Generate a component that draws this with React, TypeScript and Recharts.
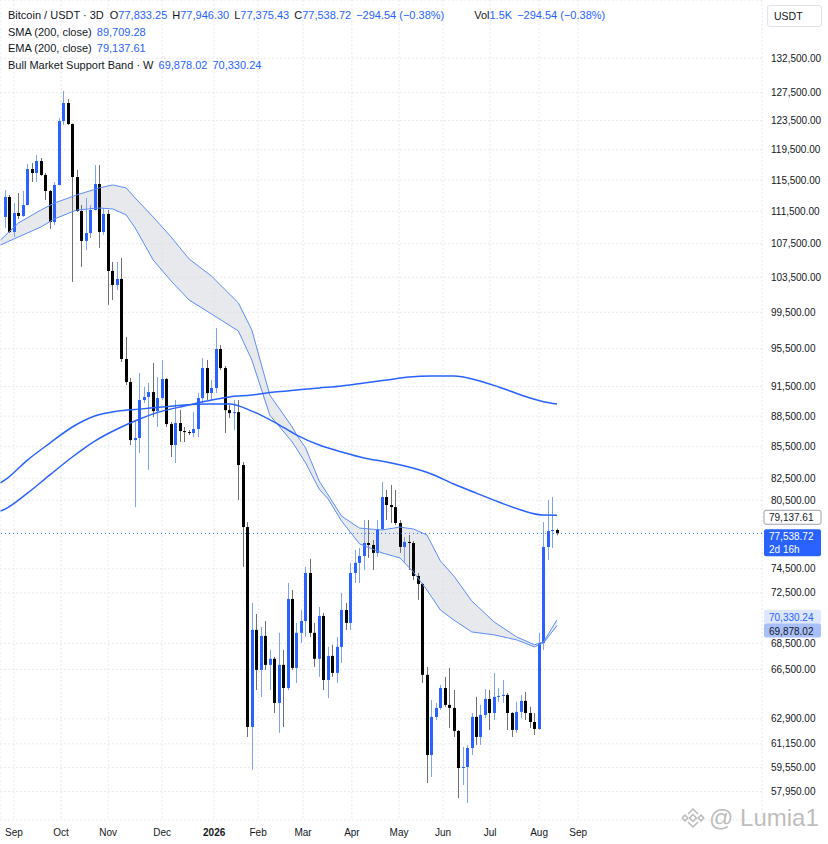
import React from 'react';
import {
  ComposedChart,
  Bar,
  Line,
  Area,
  XAxis,
  YAxis,
  CartesianGrid,
  ReferenceLine,
} from 'recharts';

const W = 828;
const H = 844;
const FONT = '"Liberation Sans", Arial, sans-serif';
const BLUE = '#2962ff';
const INK = '#131722';
const UP = '#2962ff';
const UP_WICK = '#7fa2f6';
const DOWN = '#000000';
const DOWN_WICK = '#6f6f6f';

// 3D candles, index 0 = first candle on the left
const opens = [
  110790, 113310, 108930, 111290, 110910, 112290, 116940, 116420, 118000, 116160,
  114080, 110160, 114860, 123440, 125980, 123030, 115890, 111540, 107830, 108800,
  111660, 114980, 108930, 111160, 104240, 102610, 103310, 94390, 91970, 86140,
  86340, 90120, 90430, 90930, 89000, 90320, 92280, 87710, 85660, 87810,
  87020, 86920, 86830, 87220, 90320, 93430, 90830, 91350, 95460, 93430,
  89100, 88800, 88900, 83750, 78090, 62330, 69540, 66470, 69070, 66850,
  67310, 64040, 66850, 65130, 72010, 66620, 69310, 70240, 74150, 69310,
  67310, 70640, 65720, 67530, 66250, 68220, 71120, 70090, 74150, 75000,
  75590, 76700, 76530, 75850, 77920, 80780, 80060, 79870, 78450, 76360,
  76790, 76700, 73900, 73240, 66100, 60390, 63040, 63680, 65130, 63900,
  63680, 62050, 59510, 59580, 60870, 63040, 61630, 63180, 64330, 63320,
  64480, 64550, 64620, 63320, 62120, 63400, 64190, 63320, 62680, 62190,
  68530, 76360, 77740, 77833.25,
];
const highs = [
  114210, 113570, 112540, 113820, 114080, 117600, 117730, 118800, 118400, 116420,
  114210, 115240, 123860, 127700, 126540, 123100, 116810, 112290, 113180, 112290,
  117470, 117470, 111910, 111660, 105310, 105310, 105790, 96750, 92390, 88110,
  92910, 91450, 91870, 93960, 92490, 94280, 92390, 87910, 90120, 89100,
  87420, 87120, 88900, 90830, 94490, 94280, 92180, 97740, 95890, 93640,
  89610, 90120, 90120, 84030, 78530, 71690, 70800, 69770, 70240, 67990,
  67460, 69310, 67990, 73320, 72740, 70090, 71120, 74660, 75340, 70090,
  71360, 70880, 68220, 68380, 68990, 72500, 71690, 75000, 76100, 76270,
  78710, 78710, 76960, 78710, 82160, 81420, 81890, 81420, 78710, 77220,
  77400, 76870, 74150, 73320, 66700, 64260, 64040, 65350, 65950, 66620,
  64980, 62120, 60940, 61080, 63320, 64480, 63900, 65050, 64980, 66250,
  65130, 65720, 64760, 63380, 64120, 64620, 64840, 63760, 63320, 69310,
  78530, 80510, 80780, 77946.3,
];
const lows = [
  109420, 108800, 108320, 110540, 110790, 112230, 115240, 115240, 116020, 112920,
  109290, 109790, 114800, 122890, 122890, 102960, 111410, 104720, 106740, 108190,
  111600, 106980, 108560, 100330, 100890, 102030, 94070, 91660, 85660, 79870,
  84890, 89810, 83280, 88410, 87420, 90120, 87420, 84510, 83940, 85950,
  85950, 86630, 86430, 86430, 89810, 90120, 90120, 90830, 93220, 86830,
  88310, 87120, 80510, 74660, 61630, 59380, 64980, 64480, 66470, 64980,
  63320, 61910, 62330, 64980, 66470, 65500, 68530, 68990, 68990, 66700,
  65950, 64980, 64400, 65950, 65500, 67000, 69540, 69540, 73320, 73320,
  74400, 75420, 74400, 75510, 77830, 78710, 78450, 78270, 75850, 75080,
  74400, 73570, 71930, 65500, 58510, 58910, 62820, 63540, 63760, 62260,
  61630, 57530, 58380, 57210, 60390, 61080, 61080, 62960, 62120, 62820,
  64120, 64040, 62120, 61630, 61910, 62960, 62820, 62260, 61770, 62120,
  67990, 75250, 76270, 77375.43,
];
const closes = [
  113310, 108930, 111290, 110910, 112290, 116940, 116420, 118000, 116160, 114080,
  110160, 114860, 123440, 125980, 123030, 115890, 111540, 107830, 108800, 111660,
  114980, 108930, 111160, 104240, 102610, 103310, 94390, 91970, 86140, 86340,
  90120, 90430, 90930, 89000, 90320, 92280, 87710, 85660, 87810, 87020,
  86920, 86830, 87220, 90320, 93430, 90830, 91350, 95460, 93430, 89100,
  88800, 88900, 83750, 78090, 62330, 69540, 66470, 69070, 66850, 67310,
  64040, 66850, 65130, 72010, 66620, 69310, 70240, 74150, 69310, 67310,
  70640, 65720, 67530, 66250, 68220, 71120, 70090, 74150, 75000, 75590,
  76700, 76530, 75850, 77920, 80780, 80060, 79870, 78450, 76360, 76790,
  76700, 73900, 73240, 66100, 60390, 63040, 63680, 65130, 63900, 63680,
  62050, 59510, 59580, 60870, 63040, 61630, 63180, 64330, 63320, 64480,
  64550, 64620, 63320, 62120, 63400, 64190, 63320, 62680, 62190, 68530,
  76360, 77740, 77830, 77538.72,
];

// SMA / EMA (200, close), read at these candle indices
const maIndex = [-1, 0, 5, 10, 15, 20, 25, 30, 35, 40, 45, 50, 55, 60, 65, 70, 75, 80, 85, 90, 95, 100, 105, 110, 115, 120, 123];
const smaValues = [
  79510, 79690, 81140, 82820, 84510, 86040, 87220, 88210, 89000, 89510, 90020, 90430, 90630, 90930,
  91140, 91350, 91560, 91870, 92180, 92490, 92600, 92600, 92180, 91450, 90630, 89950, 89709.28,
];
const emaValues = [
  82070, 82350, 84220, 85850, 87420, 88510, 89000, 89200, 89410, 89610, 89710, 89710, 89000, 87910,
  86630, 85660, 84990, 84410, 84030, 83560, 82910, 81980, 81140, 80330, 79600, 79150, 79137.61,
];

// Bull Market Support Band (weekly)
const bandIndex = [
  -1, 3, 8, 11, 16, 21, 24, 27, 29, 33, 37, 41, 46, 52, 55, 59, 64, 65, 67, 70,
  72, 75, 79, 84, 88, 91, 94, 97, 100, 104, 109, 114, 118, 120, 123,
];
const bandUpper = [
  107950, 110040, 111660, 112540, 113570, 114470, 114860, 114470, 113180, 110790,
  108320, 105670, 103650, 100550, 97520, 90630, 87420, 86630, 85370, 82260,
  80970, 79060, 78000, 77830, 78090, 77920, 77400, 75170, 73900, 71850,
  70160, 68990, 68380, 68610, 70330.24,
];
const bandLower = [
  107340, 108320, 109540, 110540, 111660, 111910, 111790, 111040, 109420, 105550,
  103070, 100890, 99310, 97410, 94280, 88600, 85950, 85280, 83940, 81510,
  80600, 78620, 76620, 75850, 75420, 74230, 72740, 71120, 70320, 69380,
  69150, 68760, 68220, 68530, 69878.02,
];

const priceTicks = [
  132500, 127500, 123500, 119500, 115500, 111500, 107500, 103500, 99500, 95500, 91500,
  88500, 85500, 82500, 80500, 74500, 72500, 68500, 66500, 62900, 61150, 59550, 57950,
];
const monthTicks = [2.0, 12.5, 23.0, 35.0, 46.6, 56.4, 66.4, 77.3, 87.8, 97.6, 108.1, 119.0, 127.7];
const monthLabels = ['Sep', 'Oct', 'Nov', 'Dec', '2026', 'Feb', 'Mar', 'Apr', 'May', 'Jun', 'Jul', 'Aug', 'Sep'];

const candles = opens.map((open, i) => ({
  i,
  open,
  high: highs[i],
  low: lows[i],
  close: closes[i],
  range: [lows[i], highs[i]],
}));
const maData = maIndex.map((i, k) => ({ i, sma: smaValues[k], ema: emaValues[k] }));
const bandData = bandIndex.map((i, k) => ({
  i,
  upper: bandUpper[k],
  lower: bandLower[k],
  band: [bandLower[k], bandUpper[k]],
}));

const fmt = (v: number) =>
  v.toLocaleString('en-US', { minimumFractionDigits: 2, maximumFractionDigits: 2 });

function Candle(props: any) {
  const { x, y, width, height, payload } = props;
  if (!payload || height == null || isNaN(y)) return null;
  const { open, close, high, low } = payload;
  const top = Math.min(y, y + height);
  const h = Math.abs(height);
  const span = Math.log(high) - Math.log(low);
  const toY = (v: number) => top + ((Math.log(high) - Math.log(v)) / span) * h;
  const up = close >= open;
  const cx = Math.round(x + width / 2) + 0.5;
  const bodyTop = toY(Math.max(open, close));
  const bodyBottom = toY(Math.min(open, close));
  return (
    <g>
      <line x1={cx} x2={cx} y1={top} y2={top + h} stroke={up ? UP_WICK : DOWN_WICK} strokeWidth={1} />
      <rect
        x={cx - 1.5}
        y={bodyTop}
        width={3}
        height={Math.max(1, bodyBottom - bodyTop)}
        fill={up ? UP : DOWN}
      />
    </g>
  );
}

function MonthTick(props: any) {
  const { x, y, payload, index } = props;
  const label = monthLabels[index ?? payload.index] ?? '';
  return (
    <text
      x={x}
      y={y}
      dy="0.71em"
      textAnchor="middle"
      fontSize={10}
      fontFamily={FONT}
      fontWeight={label === '2026' ? 700 : 400}
      fill={INK}
    >
      {label}
    </text>
  );
}

function PriceTag(props: any) {
  const { viewBox, text, sub, bg, color, border, dy = 0 } = props;
  if (!viewBox) return null;
  const left = viewBox.x + viewBox.width + 2;
  const cy = viewBox.y + dy;
  const h = sub ? 27 : 14;
  return (
    <g>
      <rect x={left} y={cy - 7} width={57} height={h} rx={2} fill={bg} stroke={border || 'none'} strokeWidth={1} />
      <text x={left + 5} y={cy + 0.5} dominantBaseline="central" fontSize={10} fontFamily={FONT} fill={color}>
        {text}
      </text>
      {sub && (
        <text x={left + 5} y={cy + 13} dominantBaseline="central" fontSize={10} fontFamily={FONT} fill={color}>
          {sub}
        </text>
      )}
    </g>
  );
}

function Header() {
  const v = { color: BLUE };
  const gap = { marginLeft: 5 };
  return (
    <div
      style={{
        position: 'absolute',
        left: 8,
        top: 7,
        fontFamily: FONT,
        fontSize: 11,
        lineHeight: '16.5px',
        color: INK,
        whiteSpace: 'nowrap',
        pointerEvents: 'none',
      }}
    >
      <div>
        <span>Bitcoin / USDT · 3D</span>
        <span style={{ marginLeft: 6 }}>O<span style={v}>77,833.25</span></span>
        <span style={gap}>H<span style={v}>77,946.30</span></span>
        <span style={gap}>L<span style={v}>77,375.43</span></span>
        <span style={gap}>C<span style={v}>77,538.72</span></span>
        <span style={{ ...gap, ...v }}>−294.54 (−0.38%)</span>
        <span style={{ marginLeft: 30 }}>Vol<span style={v}>1.5K</span></span>
        <span style={{ ...gap, ...v }}>−294.54 (−0.38%)</span>
      </div>
      <div>
        SMA (200, close)<span style={{ ...gap, ...v }}>89,709.28</span>
      </div>
      <div>
        EMA (200, close)<span style={{ ...gap, ...v }}>79,137.61</span>
      </div>
      <div>
        Bull Market Support Band · W<span style={{ ...gap, ...v }}>69,878.02</span>
        <span style={{ ...gap, ...v }}>70,330.24</span>
      </div>
    </div>
  );
}

function Watermark() {
  const c = 'rgba(160,160,160,0.7)';
  return (
    <div
      style={{
        position: 'absolute',
        left: 681,
        top: 804,
        display: 'flex',
        alignItems: 'center',
        fontFamily: FONT,
        fontSize: 24,
        color: c,
        pointerEvents: 'none',
      }}
    >
      <svg width={24} height={22} viewBox="0 0 24 22" style={{ marginRight: 4 }}>
        <g fill="none" stroke={c} strokeWidth={1.6} strokeLinejoin="round">
          <path d="M7 7 L12 2 L17 7" />
          <path d="M7 15 L12 20 L17 15" />
          <rect x={9.5} y={8.5} width={5} height={5} transform="rotate(45 12 11)" />
          <rect x={2} y={9} width={4} height={4} transform="rotate(45 4 11)" />
          <rect x={18} y={9} width={4} height={4} transform="rotate(45 20 11)" />
        </g>
      </svg>
      <span>@ Lumia1</span>
    </div>
  );
}

export default function App() {
  return (
    <div
      style={{
        position: 'absolute',
        left: 0,
        top: 0,
        width: W,
        height: H,
        background: '#ffffff',
        overflow: 'hidden',
      }}
    >
      <ComposedChart width={W} height={H} data={candles} margin={{ top: 0, right: 0, bottom: 0, left: 0 }}>
        <CartesianGrid stroke="#e7e9ef" strokeDasharray="2 2" />
        <XAxis
          dataKey="i"
          type="number"
          domain={[-1.114, 168.67]}
          allowDataOverflow
          ticks={monthTicks}
          interval={0}
          tick={<MonthTick />}
          tickLine={false}
          axisLine={false}
          tickSize={0}
          tickMargin={9}
          height={24}
        />
        <YAxis
          orientation="right"
          type="number"
          scale="log"
          domain={[56120, 141500]}
          allowDataOverflow
          ticks={priceTicks}
          interval={0}
          tickFormatter={fmt}
          tick={{ fontSize: 10, fill: INK, fontFamily: FONT, textAnchor: 'start' }}
          tickLine={false}
          axisLine={false}
          tickSize={0}
          tickMargin={9}
          width={66}
        />

        <Area
          data={bandData}
          dataKey="band"
          type="linear"
          fill="#d9dbe1"
          fillOpacity={0.6}
          stroke="none"
          isAnimationActive={false}
          dot={false}
          activeDot={false}
        />

        <Bar dataKey="range" barSize={4} shape={<Candle />} isAnimationActive={false} />

        <Line
          data={bandData}
          dataKey="upper"
          type="linear"
          stroke="#5c8df6"
          strokeWidth={1}
          dot={false}
          activeDot={false}
          isAnimationActive={false}
        />
        <Line
          data={bandData}
          dataKey="lower"
          type="linear"
          stroke="#5c8df6"
          strokeWidth={1}
          dot={false}
          activeDot={false}
          isAnimationActive={false}
        />
        <Line
          data={maData}
          dataKey="sma"
          type="monotone"
          stroke={BLUE}
          strokeWidth={1.5}
          dot={false}
          activeDot={false}
          isAnimationActive={false}
        />
        <Line
          data={maData}
          dataKey="ema"
          type="monotone"
          stroke={BLUE}
          strokeWidth={1.5}
          dot={false}
          activeDot={false}
          isAnimationActive={false}
        />

        <ReferenceLine y={77538.72} stroke={BLUE} strokeDasharray="1 3" strokeWidth={1} />
        <ReferenceLine
          y={79137.61}
          stroke="none"
          label={<PriceTag text="79,137.61" bg="#ffffff" color={INK} border="#9aa0aa" dy={2} />}
        />
        <ReferenceLine
          y={77538.72}
          stroke="none"
          label={<PriceTag text="77,538.72" sub="2d 16h" bg={BLUE} color="#ffffff" dy={3} />}
        />
        <ReferenceLine
          y={70330.24}
          stroke="none"
          label={<PriceTag text="70,330.24" bg="#dde7ff" color={BLUE} dy={-3} />}
        />
        <ReferenceLine
          y={69878.02}
          stroke="none"
          label={<PriceTag text="69,878.02" bg="#a8bff9" color={INK} dy={5} />}
        />
      </ComposedChart>

      <Header />

      <div
        style={{
          position: 'absolute',
          left: 767,
          top: 5,
          width: 53,
          height: 20,
          border: '1px solid #e0e3eb',
          borderRadius: 3,
          fontFamily: FONT,
          fontSize: 10.5,
          lineHeight: '20px',
          textIndent: 6,
          color: INK,
          background: '#ffffff',
        }}
      >
        USDT
      </div>

      <Watermark />
    </div>
  );
}
